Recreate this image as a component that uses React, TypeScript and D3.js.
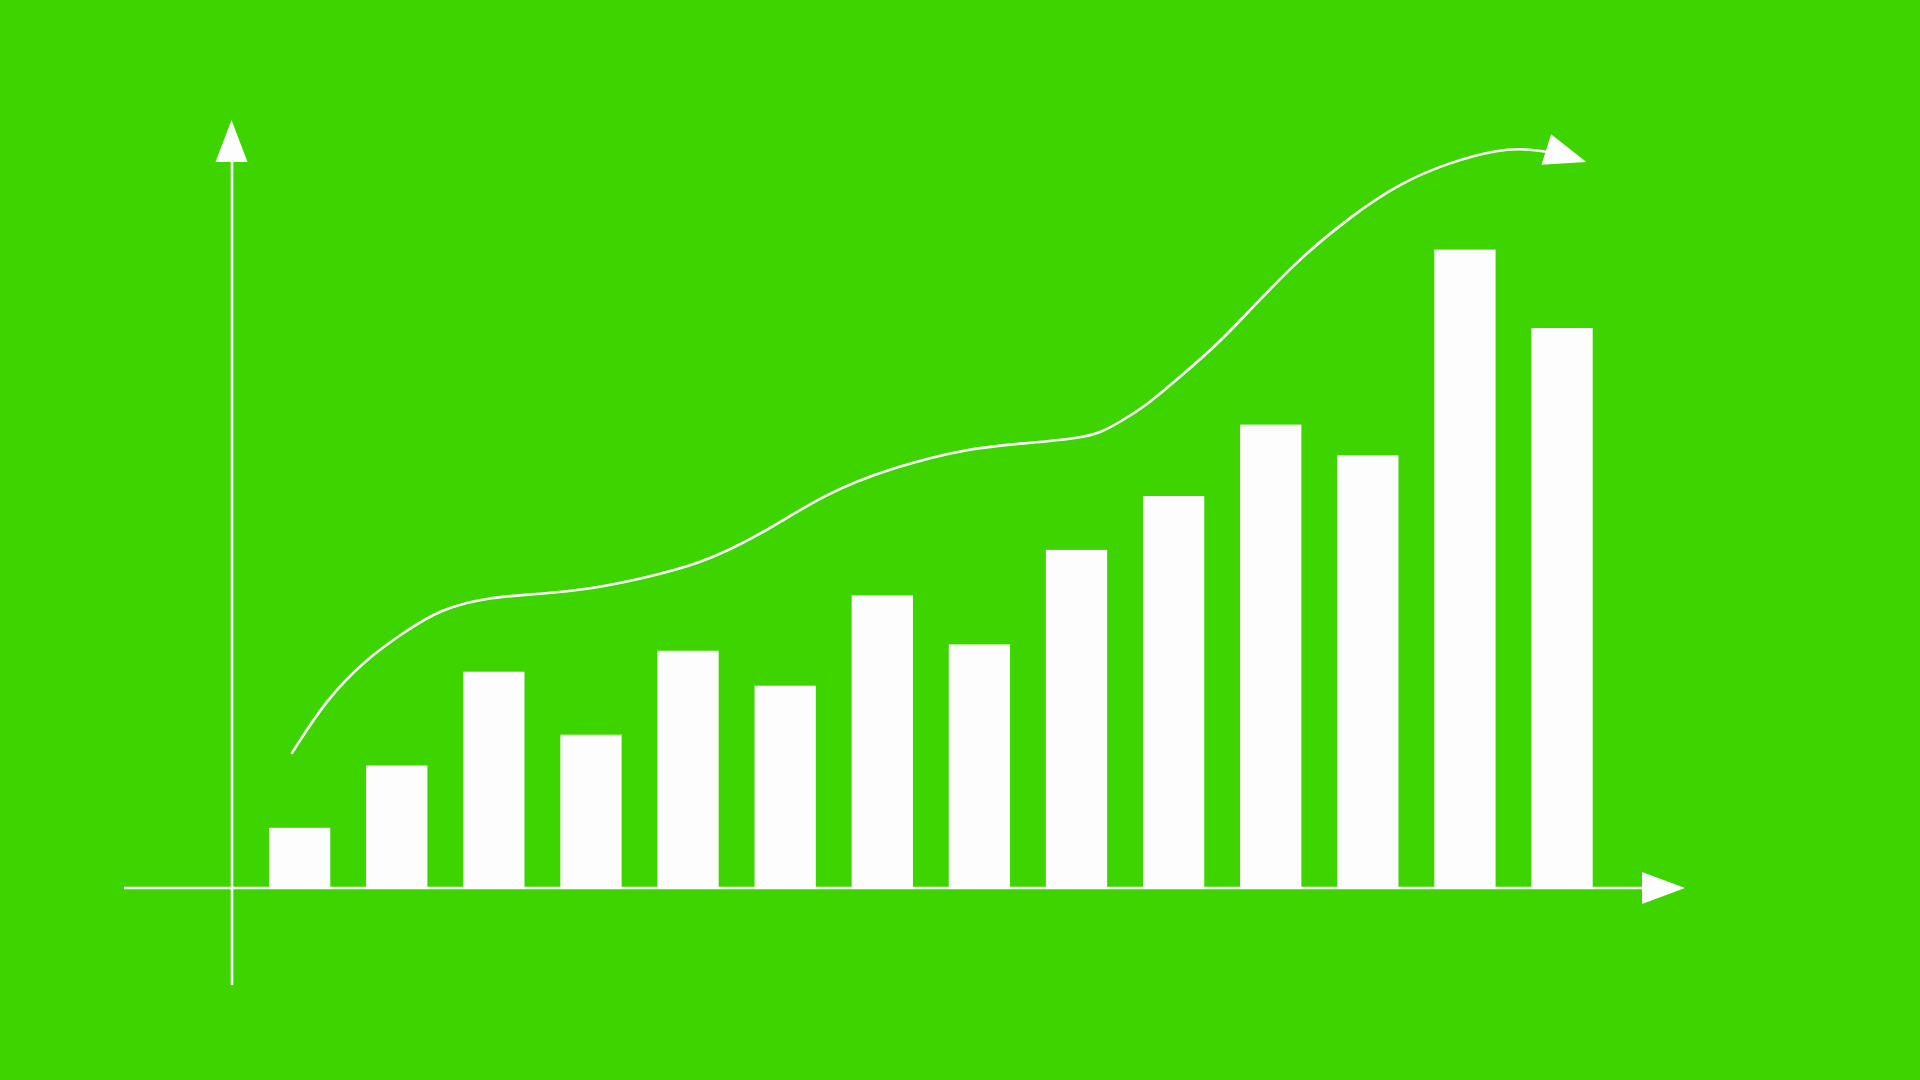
import React, { useEffect, useRef } from "react";
import * as d3 from "d3";

// bar heights (arbitrary units, 0 at the x axis)
const barIndex = [0, 1, 2, 3, 4, 5, 6, 7, 8, 9, 10, 11, 12, 13];
const barValues = [8.6, 17.5, 30.9, 21.9, 33.9, 28.9, 41.8, 34.8, 48.3, 56.0, 66.2, 61.8, 91.2, 80.0];

// trend curve, x in bar-index units, y in the same units as the bars
const curveX = [
  -0.079, 0.271, 0.673, 1.064, 1.445, 1.96, 2.475, 2.99, 3.505, 4.123, 4.71, 5.42, 6.09,
  6.883, 7.521, 8.036, 8.242, 8.448, 8.726, 9.066, 9.478, 9.786, 10.301, 10.816, 11.331,
  11.846, 12.361, 12.639, 12.855,
];
const curveY = [
  19.29, 26.86, 32.57, 36.43, 39.86, 41.57, 42.0, 42.71, 44.14, 46.29, 50.14, 56.43, 60.0,
  62.86, 63.57, 64.29, 65.0, 66.57, 69.0, 73.0, 78.0, 82.57, 90.0, 95.86, 100.71, 103.71,
  105.57, 105.57, 105.14,
];
// where the curve's arrow points to
const arrowTip = { x: 13.25, y: 103.7 };

export default function App() {
  const ref = useRef<SVGSVGElement>(null);

  useEffect(() => {
    const width = 1920;
    const height = 1080;
    const baseline = 888;
    const axisX = 232;
    const green = "#3dd400";
    const white = "#fdfdfd";

    const svg = d3.select(ref.current);
    svg.selectAll("*").remove();

    svg.append("rect").attr("width", width).attr("height", height).attr("fill", green);

    const x = d3
      .scaleBand<number>()
      .domain(barIndex)
      .range([269, 1592.7])
      .paddingInner(0.369)
      .paddingOuter(0);

    const y = d3.scaleLinear().domain([0, 100]).range([baseline, baseline - 700]);

    // continuous x for the curve, through the bar centres
    const xc = d3
      .scaleLinear()
      .domain([0, 13])
      .range([x(0)! + x.bandwidth() / 2, x(13)! + x.bandwidth() / 2]);

    // bars
    svg
      .append("g")
      .selectAll("rect")
      .data(barValues)
      .join("rect")
      .attr("x", (_, i) => x(i)!)
      .attr("y", (d) => y(d))
      .attr("width", x.bandwidth())
      .attr("height", (d) => y(0) - y(d))
      .attr("fill", white);

    // axes
    const axes = svg.append("g").attr("stroke", white).attr("stroke-width", 2.6);
    axes.append("line").attr("x1", 124).attr("x2", 1645).attr("y1", baseline).attr("y2", baseline);
    axes.append("line").attr("x1", axisX).attr("x2", axisX).attr("y1", 985).attr("y2", 158);

    const tri = (pts: [number, number][]) => "M" + pts.map((p) => p.join(",")).join("L") + "Z";
    svg
      .append("path")
      .attr("fill", white)
      .attr("d", tri([[axisX - 0.5, 120], [axisX + 15.5, 162], [axisX - 16.5, 162]]));
    svg
      .append("path")
      .attr("fill", white)
      .attr("d", tri([[1685, baseline], [1642, baseline - 16], [1642, baseline + 16]]));

    // trend curve, smoothed through the read points
    const pts: [number, number][] = curveX.map((cx, i) => [xc(cx), y(curveY[i])]);
    const line = d3.line().curve(d3.curveBasis);
    svg
      .append("path")
      .attr("fill", "none")
      .attr("stroke", white)
      .attr("stroke-width", 2.6)
      .attr("stroke-linecap", "round")
      .attr("d", line(pts));

    // arrowhead at the end of the curve
    const tip: [number, number] = [xc(arrowTip.x), y(arrowTip.y)];
    const last = pts[pts.length - 1];
    const ang = Math.atan2(tip[1] - last[1], tip[0] - last[0]) + 0.05;
    const len = 42;
    const half = 16;
    const bx = tip[0] - len * Math.cos(ang);
    const by = tip[1] - len * Math.sin(ang);
    svg
      .append("path")
      .attr("fill", white)
      .attr(
        "d",
        tri([
          tip,
          [bx - half * Math.sin(ang), by + half * Math.cos(ang)],
          [bx + half * Math.sin(ang), by - half * Math.cos(ang)],
        ])
      );
  }, []);

  return (
    <div style={{ position: "fixed", left: 0, top: 0 }}>
      <svg ref={ref} width={1920} height={1080} style={{ display: "block" }} />
    </div>
  );
}
